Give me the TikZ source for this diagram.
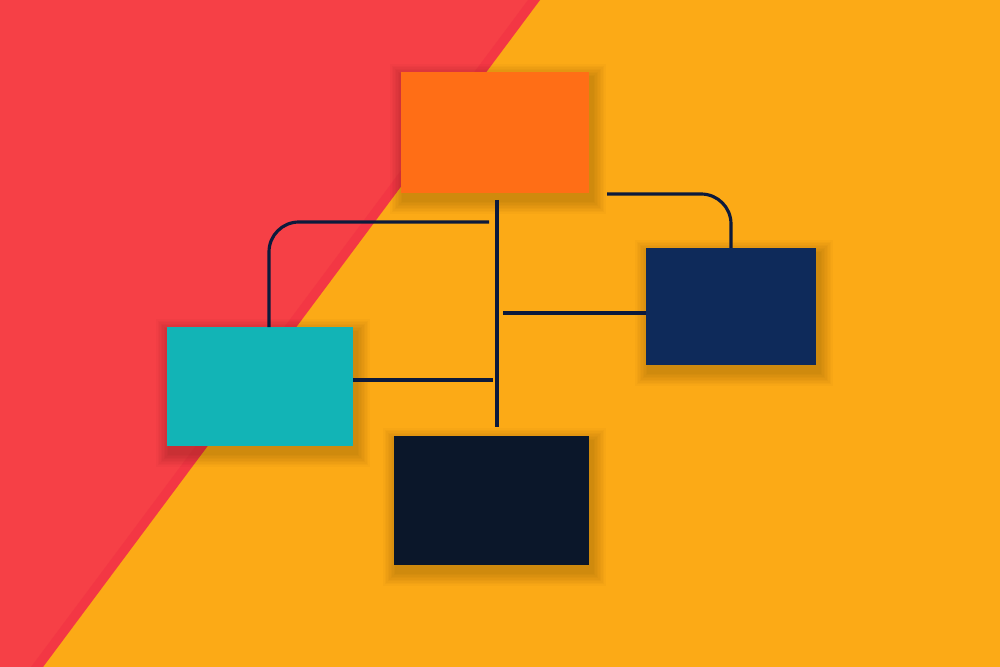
\documentclass[tikz,border=0pt]{standalone}
\definecolor{bgred}{RGB}{246,64,70}
\definecolor{bgred2}{RGB}{238,40,66}
\definecolor{bgyel}{RGB}{252,170,22}
\definecolor{boxorange}{RGB}{255,110,22}
\definecolor{boxteal}{RGB}{18,180,182}
\definecolor{boxnavy}{RGB}{14,42,90}
\definecolor{boxdark}{RGB}{11,23,42}
\definecolor{linecol}{RGB}{12,26,60}
\pgfdeclarelayer{bg}
\pgfdeclarelayer{shade}
\pgfsetlayers{bg,shade,main}
\begin{document}
\begin{tikzpicture}[x=0.01cm,y=-0.01cm,
  panel/.style={draw=none,inner sep=0pt,outer sep=0pt},
  softshade/.style={fill=black,opacity=0.02},
  conn/.style={draw=linecol,line width=0.9pt,rounded corners=8.5pt}]
\useasboundingbox (0,0) rectangle (1000,667);
\begin{pgfonlayer}{bg}
\fill[bgyel] (0,0) rectangle (1000,667);
\fill[bgred] (0,0) -- (540,0) -- (43,667) -- (0,667) -- cycle;
\fill[bgred2,opacity=0.35] (540,0) -- (528,0) -- (31,667) -- (43,667) -- cycle;
\end{pgfonlayer}
% boxes
\node[panel,fill=boxorange,minimum width=1.88cm,minimum height=1.21cm] (top) at (495,132.5) {};
\node[panel,fill=boxnavy,minimum width=1.70cm,minimum height=1.17cm] (right) at (731,306.5) {};
\node[panel,fill=boxteal,minimum width=1.86cm,minimum height=1.19cm] (left) at (260,386.5) {};
\node[panel,fill=boxdark,minimum width=1.95cm,minimum height=1.29cm] (bottom) at (491.5,500.5) {};
\begin{pgfonlayer}{shade}
\foreach \n in {top,right,left,bottom}{
  \foreach \k in {1,...,9}{
    \fill[softshade] ([shift={(3-1.5*\k,6-1.5*\k)}]\n.north west) rectangle ([shift={(3+1.5*\k,7+1.5*\k)}]\n.south east);
  }
}
\end{pgfonlayer}
% connectors
\coordinate (vtop) at (497,200);
\coordinate (vbot) at (497,427);
\coordinate (tlend) at (489,222);
\coordinate (trstart) at (607,194);
\coordinate (mstart) at (503,313);
\coordinate (tend) at (493,380);
\draw[conn,rounded corners=0pt] (vtop) -- (vbot);
\draw[conn] (tlend) -- (269,222) -- (269,327);
\draw[conn] (trstart) -- (731,194) -- (731,248);
\draw[conn,rounded corners=0pt] (mstart) -- (right.west |- mstart);
\draw[conn,rounded corners=0pt] (left.east |- tend) -- (tend);
\end{tikzpicture}
\end{document}
